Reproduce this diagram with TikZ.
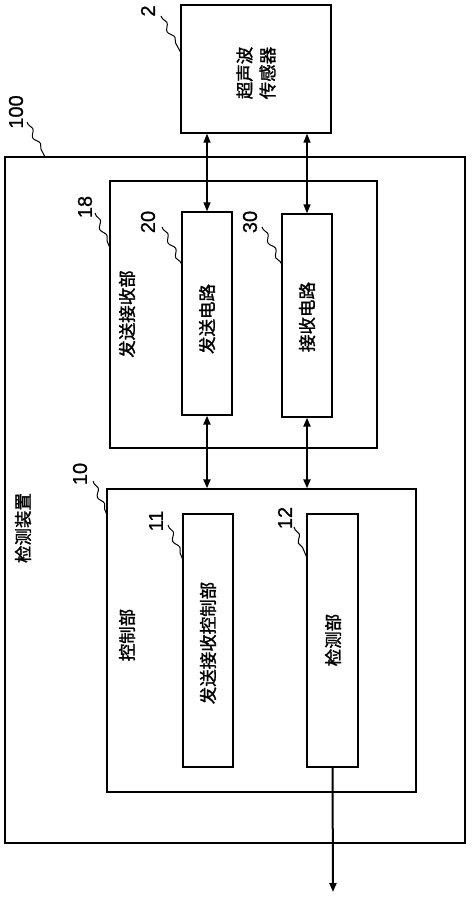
\documentclass[tikz,border=0pt]{standalone}
\usepackage{fontspec}
\setmainfont{Liberation Sans}
\newfontfamily\cjk[FakeBold=1.6]{Noto Sans CJK SC}
\newfontfamily\numfont[FakeBold=0.8]{Liberation Sans}
\usetikzlibrary{arrows.meta,decorations.pathmorphing,calc}
\begin{document}
\begin{tikzpicture}[x=1pt,y=-1pt,
  box/.style={draw, line width=1.3pt, inner sep=0pt},
  lab/.style={font=\cjk\fontsize{17.5pt}{23pt}\selectfont, rotate=90, align=center, inner sep=0pt},
  num/.style={font=\numfont\fontsize{20pt}{20pt}\selectfont, rotate=90, inner sep=0pt},
  lead/.style={line width=1pt, decorate, decoration={snake, amplitude=2.2pt, segment length=17pt, pre length=3pt, post length=3pt}},
  tip/.tip={Triangle[length=9pt,width=7pt]},
  thinarr/.style={tip-tip, line width=1.2pt},
  thickarr/.style={tip-tip, line width=2pt},
  outarr/.style={-tip, line width=2pt}]
\useasboundingbox (0,0) rectangle (474,899);

% boxes
\node[box, minimum width=150pt, minimum height=128pt] (s) at (256,69) {};
\node[box, minimum width=460pt, minimum height=686pt] (dev) at (235,500) {};
\node[box, minimum width=267pt, minimum height=267pt] (tr) at (243.5,314.5) {};
\node[box, minimum width=50pt, minimum height=203pt] (tx) at (207,313.5) {};
\node[box, minimum width=50pt, minimum height=203pt] (rx) at (307,315.5) {};
\node[box, minimum width=309pt, minimum height=303pt] (ctl) at (261.5,640.5) {};
\node[box, minimum width=50pt, minimum height=253pt] (trc) at (208,640.5) {};
\node[box, minimum width=51pt, minimum height=253pt] (det) at (332.5,640.5) {};

% texts
\node[lab] (st) at (256,73) {超声波\\传感器};
\node[lab] (devt) at (23,528) {检测装置};
\node[lab] (trt) at (127,314) {发送接收部};
\node[lab] (txt) at (207,319) {发送电路};
\node[lab] (rxt) at (307,317) {接收电路};
\node[lab] (ctlt) at (127,635) {控制部};
\node[lab] (trct) at (208,643) {发送接收控制部};
\node[lab] (dett) at (333,640) {检测部};

% numbers
\node[num] (n2) at (148,11) {2};
\node[num] (n100) at (16,112) {100};
\node[num] (n18) at (85,207) {18};
\node[num] (n20) at (148,222) {20};
\node[num] (n30) at (250,222) {30};
\node[num] (n10) at (80,474) {10};
\node[num] (n11) at (156,521) {11};
\node[num] (n12) at (285,518) {12};

% leader end points
\coordinate (a2) at (161,16);   \coordinate (b2) at (181,53);
\coordinate (a100) at (27,122); \coordinate (b100) at (45,157);
\coordinate (a18) at (95,213);  \coordinate (b18) at (110,248);
\coordinate (a20) at (162,227); \coordinate (b20) at (182,265);
\coordinate (a30) at (262,227); \coordinate (b30) at (282,265);
\coordinate (a10) at (93,481);  \coordinate (b10) at (107,515);
\coordinate (a11) at (168,525); \coordinate (b11) at (183,560);
\coordinate (a12) at (294,527); \coordinate (b12) at (307,558);
\foreach \k in {2,100,18,20,30,10,11,12}{
  \draw[lead] (a\k) -- (b\k);
}

% connectors
\draw[thinarr] (tx.north) -- (tx.north |- s.south);
\draw[thinarr] (rx.north) -- (rx.north |- s.south);
\draw[thickarr] (tx.south) -- (tx.south |- ctl.north);
\draw[thickarr] (rx.south) -- (rx.south |- ctl.north);
\coordinate (out) at (333,892);
\draw[outarr] (det.south) -- (out);
\end{tikzpicture}
\end{document}
